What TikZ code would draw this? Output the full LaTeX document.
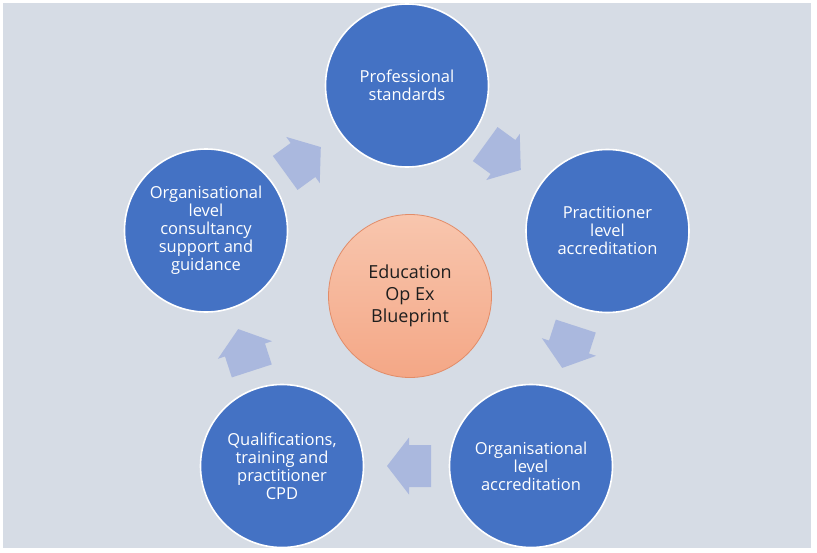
\documentclass[tikz,border=0pt]{standalone}
\usepackage{fontspec}
\setmainfont{Open Sans}
\definecolor{bgcol}{RGB}{214,220,229}
\definecolor{bluecol}{RGB}{68,114,196}
\definecolor{arrowcol}{RGB}{170,184,222}
\definecolor{orangetop}{RGB}{248,198,174}
\definecolor{orangebot}{RGB}{244,167,134}
\definecolor{orangeedge}{RGB}{226,140,104}
\definecolor{centertext}{RGB}{30,30,30}
\begin{document}
\begin{tikzpicture}[x=1pt,y=-1pt,
  bluecircle/.style={circle, fill=bluecol, draw=white, line width=1.6pt,
    minimum size=163pt, inner sep=0pt, text=white, align=center,
    font=\fontsize{16.5}{18}\selectfont},
  centercircle/.style={circle, top color=orangetop, bottom color=orangebot,
    draw=orangeedge, line width=0.8pt, minimum size=163pt, inner sep=0pt,
    text=centertext, align=center, font=\fontsize{18}{21.7}\selectfont},
  cyclearrow/.pic={\fill[arrowcol] (-22,-21) -- (0,-21) -- (0,-28.5) -- (22,0)
     -- (0,28.5) -- (0,21) -- (-22,21) -- cycle;}
]
\useasboundingbox (0,0) rectangle (817,552);
\fill[white] (0,0) rectangle (817,552);
\fill[bgcol] (3,3) rectangle (811,548);

\node[bluecircle] (ps) at (407,85.5) {Professional\\standards};
\node[bluecircle] (pla) at (607.5,231) {Practitioner\\level\\accreditation};
\node[bluecircle] (ola) at (531,466) {Organisational\\level\\accreditation};
\node[bluecircle] (qtp) at (282,466) {Qualifications,\\training and\\practitioner\\CPD};
\node[bluecircle] (olc) at (206,230.5) {Organisational\\level\\consultancy\\support and\\guidance};
\node[centercircle] (bp) at (410,296) {Education\\Op Ex\\Blueprint};

\pic[rotate=36] (a1) at (303,160) {cyclearrow};
\pic[rotate=-36] (a2) at (503,157) {cyclearrow};
\pic[rotate=-108] (a3) at (569,347) {cyclearrow};
\pic[rotate=180] (a4) at (409,466) {cyclearrow};
\pic[rotate=108] (a5) at (245,350) {cyclearrow};
\end{tikzpicture}
\end{document}
